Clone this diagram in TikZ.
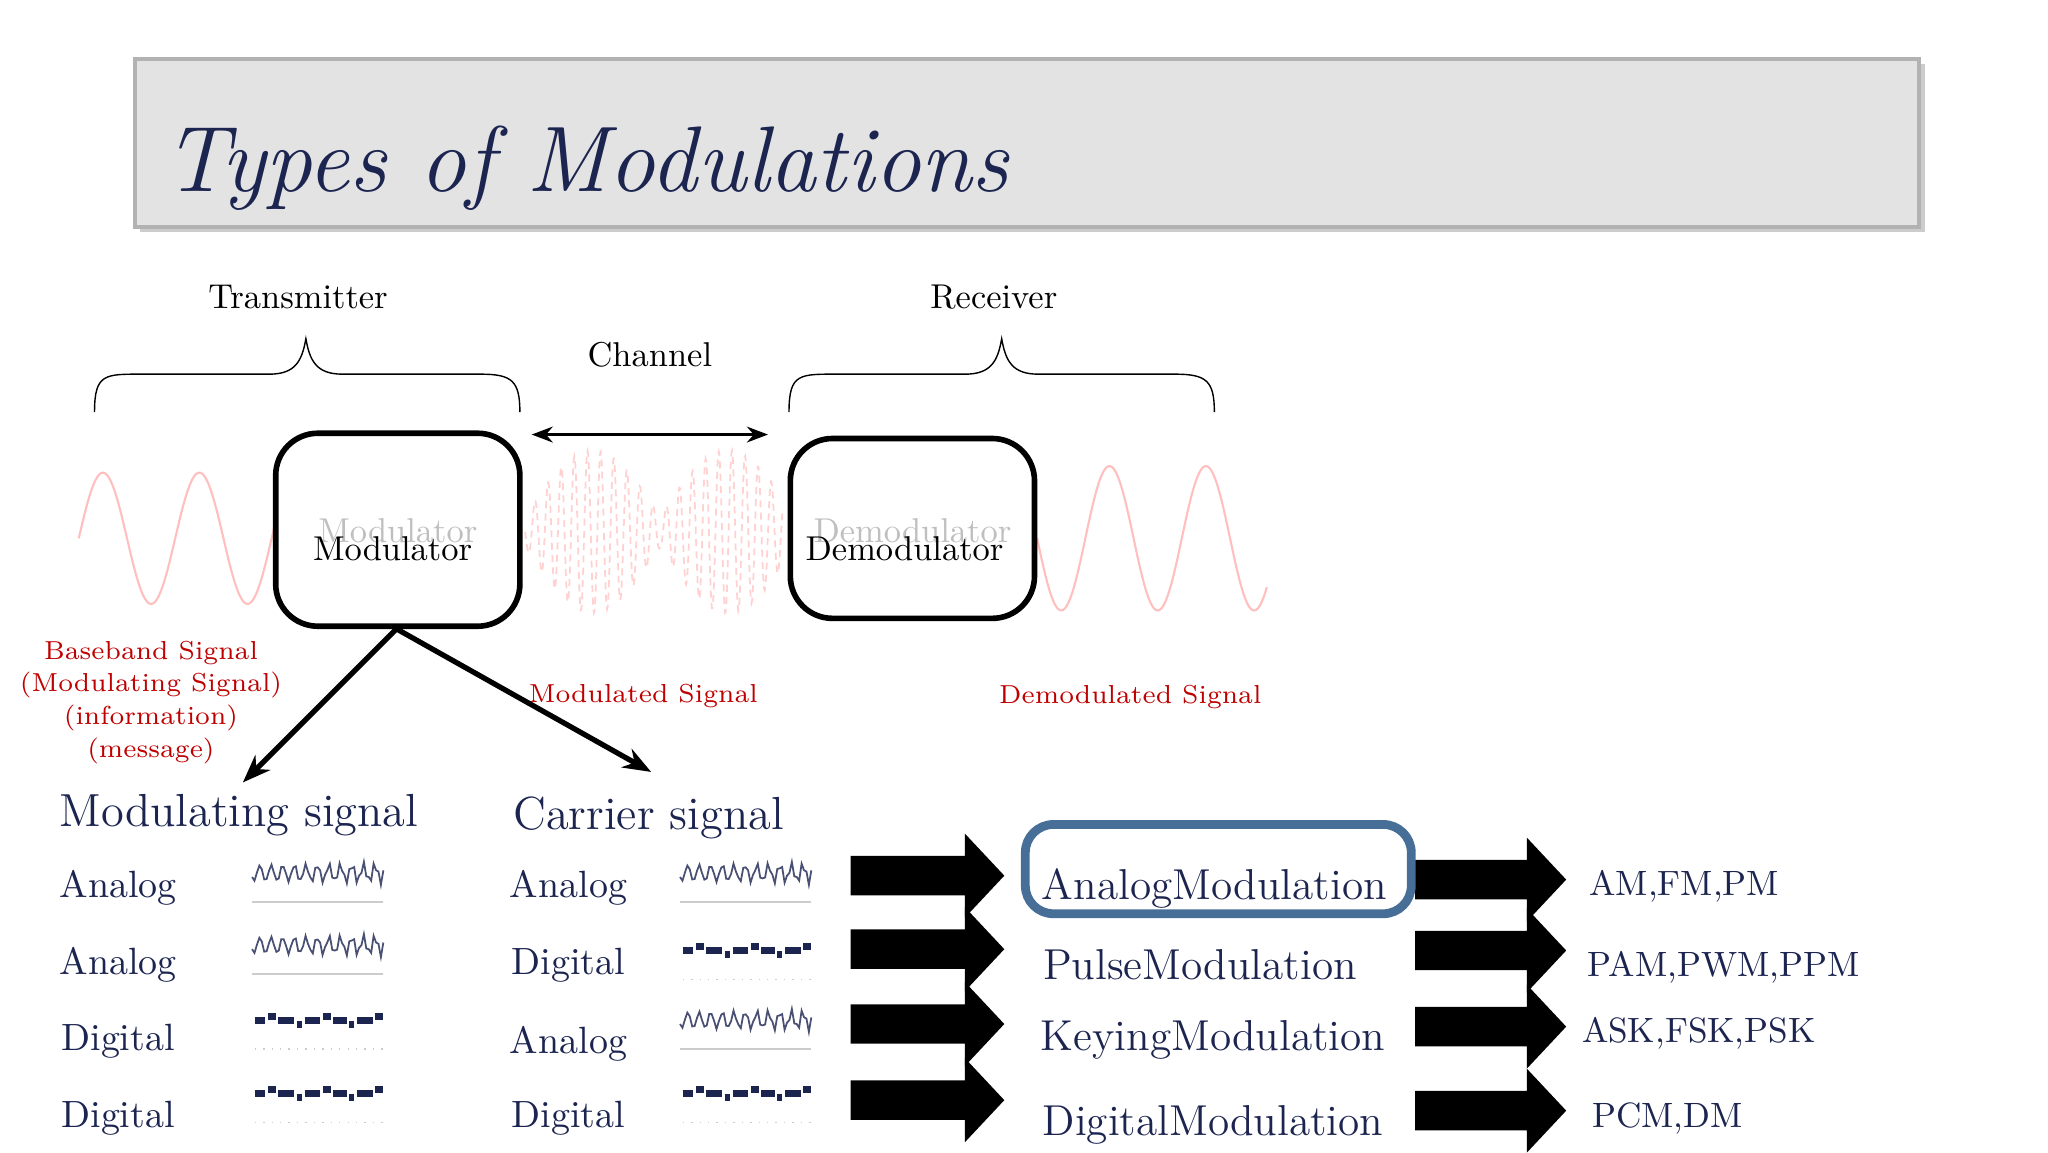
\documentclass[tikz,border=0pt]{standalone}
\usetikzlibrary{arrows.meta,shadows}
\definecolor{navyc}{RGB}{28,36,80}
\definecolor{boxblue}{RGB}{70,110,150}
\begin{document}
\begin{tikzpicture}[x=0.013128cm,y=-0.013128cm,
 navy/.style={text=navyc},
 big/.style={navy,font=\fontsize{10.8}{13}\selectfont},
 mid/.style={navy,font=\fontsize{12.3}{15}\selectfont},
 right/.style={navy,font=\fontsize{10}{12}\selectfont},
 blk/.style={font=\fontsize{9.8}{12}\selectfont},
 red/.style={text=red!75!black,font=\fontsize{7.4}{9.3}\selectfont,align=center},
 box/.style={draw,line width=1.6pt,rounded corners=12pt},
 wave/.style={red!25,line width=0.6pt}]
\useasboundingbox (0,0) rectangle (1560,877.5);
% title
\fill[gray!40] (107,49) rectangle (1466,177);
\draw[gray!60,fill=gray!22,line width=1.2pt] (103,45) rectangle (1462,173);
\node[anchor=base west,text=navyc,font=\fontsize{26.5}{30}\selectfont\itshape] (title) at (115,146) {Types of Modulations};
% labels
\node[blk] (tx) at (227,226) {Transmitter};
\node[blk] (rx) at (757,226) {Receiver};
\node[blk] (ch) at (495,270) {Channel};
\draw (72,314) .. controls (72,284) and (80,285) .. (110,285) -- (205,285) .. controls (225,285) and (230,275) .. (233,258) .. controls (236,275) and (241,285) .. (261,285) -- (366,285) .. controls (390,285) and (396,290) .. (396,314);
\draw (601,314) .. controls (601,284) and (609,285) .. (639,285) -- (735,285) .. controls (755,285) and (760,275) .. (763,258) .. controls (766,275) and (771,285) .. (791,285) -- (895,285) .. controls (919,285) and (925,290) .. (925,314);
\coordinate (cl) at (405,331); \coordinate (cr) at (585,331);
\draw[{Stealth[length=6pt]}-{Stealth[length=6pt]},thick] (cl) -- (cr);
% waves
\draw[wave,domain=60:210,samples=150] plot (\x,{410-50*sin((\x-60)*4.9)});
\draw[wave,domain=790:965,samples=150] plot (\x,{410+55*sin((\x-790)*4.9)});
\draw[red!18,line width=0.5pt,dash pattern=on 2pt off 1.5pt,domain=0:196,samples=450] plot ({\x+400},{405+(12+50*abs(sin(\x*1.75)))*sin(\x*36)});
% boxes
\draw[box,fill=white] (210,330) rectangle (396,477);
\draw[box,fill=white] (602,334) rectangle (788,471);
\node[text=gray!50,font=\fontsize{9.8}{12}\selectfont] at (303,404) {Modulator};
\node[blk] (modt) at (299,418) {Modulator};
\node[text=gray!50,font=\fontsize{9.8}{12}\selectfont] at (695,404) {Demodulator};
\node[blk] (demodt) at (689,418) {Demodulator};
% red labels
\node[red] (bb) at (115,535) {Baseband Signal\\(Modulating Signal)\\(information)\\(message)};
\node[red] (ms) at (490,530) {Modulated Signal};
\node[red] (ds) at (861,531) {Demodulated Signal};
\coordinate (top) at (302,479); \coordinate (a1) at (185,596); \coordinate (a2) at (496,588);
\draw[line width=1.5pt,-{Stealth[length=8pt]}] (top) -- (a1);
\draw[line width=1.5pt,-{Stealth[length=8pt]}] (top) -- (a2);
% headers
\node[navy,font=\fontsize{13.2}{16}\selectfont] (mh) at (182,621) {Modulating signal};
\node[navy,font=\fontsize{13.2}{16}\selectfont] (chh) at (494,623) {Carrier signal};
\foreach \t/\y in {Analog/676,Analog/735,Digital/793,Digital/852}{\node[big] at (90,\y) {\t};}
\foreach \t/\y in {Analog/676,Digital/735,Analog/795,Digital/852}{\node[big] at (433,\y) {\t};}
% thumbnails
\def\ana#1#2{\draw[navyc!80,line width=0.5pt,domain=0:100,samples=55] plot ({#1+\x},{#2+9*sin(\x*97)+6*sin(\x*41+30)});
 \draw[gray!40] (#1,#2+22) -- (#1+100,#2+22);}
\def\dig#1#2{\foreach \a/\b/\o in {0/8/0,10/16/-3,18/30/0,32/36/3,38/50/0,52/58/-3,60/70/0,72/76/3,78/90/0,92/98/-3}{\draw[navyc,line width=2pt] (#1+\a,#2+\o) -- (#1+\b,#2+\o);}
 \draw[gray!40,dotted] (#1,#2+22) -- (#1+100,#2+22);}
\ana{192}{665}\ana{192}{720}\dig{194}{777}\dig{194}{833}
\ana{518}{665}\dig{520}{724}\ana{518}{777}\dig{520}{833}
% big arrows
\foreach \y in {667,723,780,838}{\fill (648,\y-15) -- (735,\y-15) -- (735,\y-32) -- (765,\y) -- (735,\y+32) -- (735,\y+15) -- (648,\y+15) -- cycle;}
\foreach \y in {670,724,782,846}{\fill (1078,\y-15) -- (1163,\y-15) -- (1163,\y-32) -- (1193,\y) -- (1163,\y+32) -- (1163,\y+15) -- (1078,\y+15) -- cycle;}
\draw[line width=2.5pt,draw=boxblue,rounded corners=8pt] (781,628) rectangle (1075,696);
\node[mid] (am) at (925,677) {AnalogModulation};
\node[mid] (pm) at (914,735) {PulseModulation};
\node[mid] (km) at (924,792) {KeyingModulation};
\node[mid] (dm) at (924,857) {DigitalModulation};
\node[right] (r1) at (1283,675) {AM,FM,PM};
\node[right] (r2) at (1313,737) {PAM,PWM,PPM};
\node[right] (r3) at (1294,787) {ASK,FSK,PSK};
\node[right] (r4) at (1270,852) {PCM,DM};
\end{tikzpicture}
\end{document}
